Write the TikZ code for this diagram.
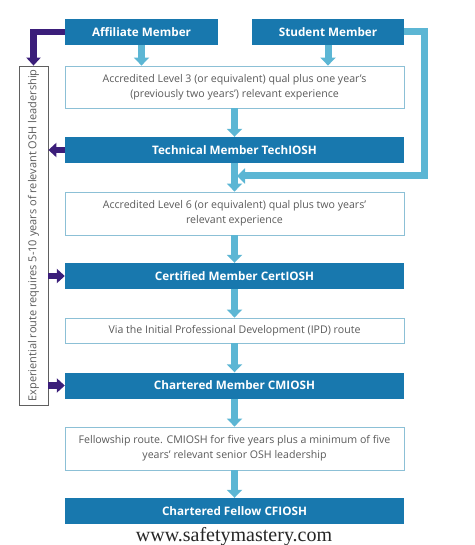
\documentclass[tikz,border=0pt]{standalone}
\usepackage{fontspec}
\setmainfont{Open Sans}
\newfontfamily\urlfont{Liberation Serif}
\usetikzlibrary{arrows.meta}
\definecolor{iblue}{HTML}{1878AE}
\definecolor{lblue}{HTML}{5CB6D4}
\definecolor{ipurp}{HTML}{3B1E7A}
\definecolor{igrey}{HTML}{5A5A5A}
\definecolor{iedge}{HTML}{8CC0D6}
\tikzset{%
    bbox/.style={fill=iblue,text=white,minimum width=339pt,minimum height=26pt,inner sep=0pt,font=\bfseries\fontsize{11.7}{13}\selectfont},
    wbox/.style={draw=iedge,line width=0.8pt,fill=white,text=igrey,minimum width=339pt,inner sep=0pt,align=center,font=\fontsize{10.6}{15}\selectfont}
}

\begin{document}
\begin{tikzpicture}[x=1pt,y=-1pt,
        barr/.style={draw=lblue,line width=7pt,-{Triangle[width=15pt,length=8pt]}},
        parr/.style={draw=ipurp,line width=6.5pt,-{Triangle[width=14pt,length=8pt]}}]
        \useasboundingbox (0,0) rectangle (474,545);

        % top row
        \node[bbox,minimum width=153pt] (aff) at (141.5,32){Affiliate Member};
        \node[bbox,minimum width=152pt] (stu) at (328,32){Student Member};

        % main column
        \node[wbox,minimum height=42pt] (l3) at (234.5,87){Accredited Level 3 (or equivalent) qual plus one year's\\(previously two years') relevant experience};
        \node[bbox] (tech) at (234.5,150){Technical Member TechIOSH};
        \node[wbox,minimum height=43pt] (l6) at (234.5,213.5){Accredited Level 6 (or equivalent) qual plus two years'\\relevant experience};
        \node[bbox] (cert) at (234.5,276){Certified Member CertIOSH};
        \node[wbox,minimum height=25pt] (ipd) at (234.5,330.5){Via the Initial Professional Development (IPD) route};
        \node[bbox] (cm) at (234.5,385.5){Chartered Member CMIOSH};
        \node[wbox,minimum height=43pt] (fel) at (234.5,448.5){Fellowship route. CMIOSH for five years plus a minimum of five\\years' relevant senior OSH leadership};
        \node[bbox] (cf) at (234.5,511){Chartered Fellow CFIOSH};

        % experiential route
        \node[draw=gray!75!black,line width=0.8pt,minimum width=29pt,minimum height=339pt,inner sep=0pt] (side) at (33.5,235.5){};
        \node[rotate=90,text=igrey,font=\fontsize{11}{12}\selectfont] (sidetxt) at (side){Experiential route requires 5-10 years of relevant OSH leadership};

        \node[font=\urlfont\fontsize{20}{22}\selectfont,text=black!85] (url) at (234,537){www.safetymastery.com};

        \coordinate (sbend) at (424,176);
        \coordinate (mrg) at (237,176);

        \draw[barr] (aff.south) -- (aff.south |- l3.north);
        \draw[barr] (stu.south) -- (stu.south |- l3.north);
        \draw[barr] (l3) -- (tech);
        \draw[barr] (tech) -- (l6);
        \draw[barr] (l6) -- (cert);
        \draw[barr] (cert) -- (ipd);
        \draw[barr] (ipd) -- (cm);
        \draw[barr] (cm) -- (fel);
        \draw[barr] (fel) -- (cf);
        \draw[barr] (stu.east) -| (sbend) -- (mrg);

        \draw[parr] (aff.west) -| (side.north);
        \draw[parr] (tech.west) -- (side.east |- tech.west);
        \draw[parr] (side.east |- cert.west) -- (cert.west);
        \draw[parr] (side.east |- cm.west) -- (cm.west);
    \end{tikzpicture}
\end{document}
